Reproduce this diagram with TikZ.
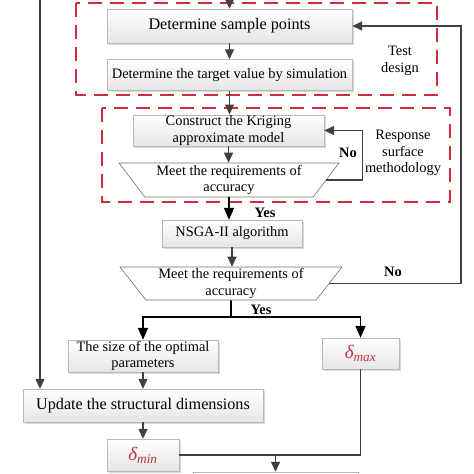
\documentclass[tikz,border=0pt]{standalone}
\usepackage{fontspec}
\setmainfont{Liberation Serif}
\usetikzlibrary{arrows.meta,shapes.geometric,shadows}

\definecolor{dashred}{RGB}{205,45,55}
\definecolor{deltared}{RGB}{190,50,60}
\definecolor{linegray}{RGB}{64,64,64}

\newcommand{\fsbody}{\fontsize{14.4}{16.5}\selectfont}
\newcommand{\fsbig}{\fontsize{16.2}{18}\selectfont}
\newcommand{\fsdelta}{\fontsize{19}{20}\selectfont}

\tikzset{
  stepbox/.style={draw=gray!55, top color=white, bottom color=gray!20,
    drop shadow={shadow xshift=1.5pt, shadow yshift=-1.5pt, fill=gray!50, opacity=0.6},
    inner sep=1pt, align=center, font=\fsbody},
  decbox/.style={draw=gray!90!black, fill=white, line width=0.6pt, align=center, font=\fsbody,
    trapezium, shape border rotate=180, trapezium angle=49,
    trapezium stretches body, inner xsep=1pt, inner ysep=0pt},
  deltabox/.style={stepbox, text=deltared, font=\fsdelta\itshape},
  dashgroup/.style={draw=dashred, line width=1.4pt, dash pattern=on 14pt off 8pt},
  flow/.style={draw=linegray, line width=1.3pt, -{Triangle[length=10pt,width=9pt]}},
  branch/.style={draw=black, line width=1.6pt, -{Triangle[length=12pt,width=10pt]}},
  lbl/.style={font=\fsbody, align=center},
  answer/.style={font=\fsbody\bfseries},
}

\begin{document}
\begin{tikzpicture}[x=1pt,y=-1pt]
  % 描画範囲
  \useasboundingbox (0,0) rectangle (474,474);
  \fill[white] (0,0) rectangle (474,474);
  \clip (0,0) rectangle (474,474);
  % 点の定義
  \coordinate (top_in) at (229.5,-10);
  \coordinate (left_in) at (40,-10);
  \coordinate (loop_right) at (461,0);
  \coordinate (split) at (231,317);
  % 破線の枠
  \draw[dashgroup] (76,3) rectangle (437,95);
  \draw[dashgroup] (102,108) rectangle (450,202);
  % ノードの描画
  \node[stepbox, minimum width=245pt, minimum height=34pt, font=\fsbig] (sample) at (229.5,26) {Determine sample points};
  \node[stepbox, minimum width=245pt, minimum height=31pt] (target) at (229.5,75) {Determine the target value by simulation};
  \node[stepbox, minimum width=191pt, minimum height=31pt] (kriging) at (228.5,130.5) {Construct the Kriging\\approximate model};
  \node[decbox, minimum width=220pt, minimum height=34pt] (dec1) at (229,180) {Meet the requirements of\\accuracy};
  \node[stepbox, minimum width=140pt, minimum height=27pt] (nsga) at (232,233.5) {NSGA-II algorithm};
  \node[decbox, minimum width=222pt, minimum height=33pt] (dec2) at (231,283.5) {Meet the requirements of\\accuracy};
  \node[stepbox, minimum width=150pt, minimum height=32pt] (size) at (143,356) {The size of the optimal\\parameters};
  \node[deltabox, minimum width=77pt, minimum height=31pt] (dmax) at (360.5,353.5) {δ\textsubscript{max}};
  \node[stepbox, minimum width=240pt, minimum height=33pt, font=\fsbig] (update) at (143,405.5) {Update the structural dimensions};
  \node[deltabox, minimum width=72pt, minimum height=32pt] (dmin) at (143,455) {δ\textsubscript{min}};
  \node[stepbox, minimum width=165pt, minimum height=40pt] (final) at (275.5,492) {};
  % 枠の説明
  \node[lbl] (test) at (400,61) {Test\\design};
  \node[lbl] (rsm) at (403,153) {Response\\surface\\methodology};
  \node[answer] (no1) at (348,153) {No};
  \node[answer] (yes1) at (265,213) {Yes};
  \node[answer] (no2) at (393,272) {No};
  \node[answer] (yes2) at (261,310) {Yes};
  % 線の描画
  \draw[flow] (top_in) -- (sample.north);
  \draw[flow] (left_in) -- (left_in |- update.north);
  \draw[flow] (sample.south) -- (target.north);
  \draw[flow] (target.south) -- (target.south |- kriging.north);
  \draw[flow] (kriging.south) -- (kriging.south |- dec1.north);
  \draw[flow] (dec1.east) -- ++(36,0) |- (kriging.east);
  \draw[branch] (dec1.south) -- (dec1.south |- nsga.north);
  \draw[flow] (nsga.south) -- (nsga.south |- dec2.north);
  \draw[flow] (dec2.east) -- (dec2.east -| loop_right) |- (sample.east);
  \draw[line width=1.6pt] (dec2.south) -- (split);
  \draw[branch] (split) -| (size.north);
  \draw[branch] (split) -| (dmax.north);
  \draw[flow] (size.south) -- (update.north);
  \draw[flow] (update.south) -- (dmin.north);
  \draw[draw=linegray, line width=1.3pt] (dmin.east) -| (dmax.south);
  \draw[flow] (dmin.east -| final.north) -- (final.north);
\end{tikzpicture}
\end{document}
